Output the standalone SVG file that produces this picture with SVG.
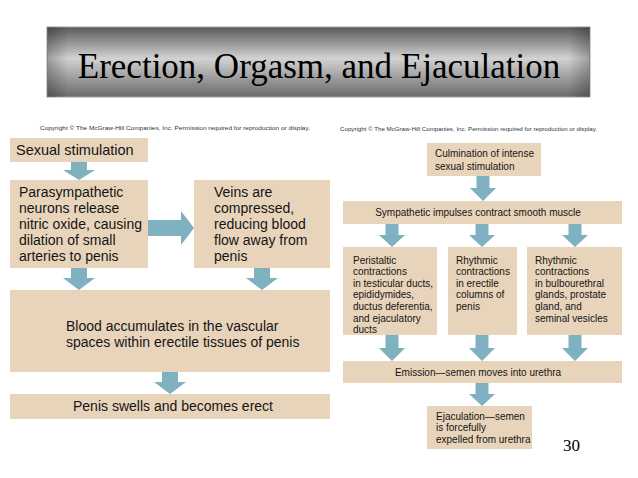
<svg xmlns="http://www.w3.org/2000/svg" width="638" height="478" viewBox="0 0 638 478">
<defs>
<linearGradient id="tg" x1="0" y1="0" x2="0" y2="1">
<stop offset="0" stop-color="#5a5a5a"/>
<stop offset="0.45" stop-color="#d2d2d2"/>
<stop offset="1" stop-color="#6a6a6a"/>
</linearGradient>
<linearGradient id="tgh" x1="0" y1="0" x2="1" y2="0">
<stop offset="0" stop-color="#000" stop-opacity="0.25"/>
<stop offset="0.04" stop-color="#000" stop-opacity="0"/>
<stop offset="0.96" stop-color="#000" stop-opacity="0"/>
<stop offset="1" stop-color="#000" stop-opacity="0.25"/>
</linearGradient>
</defs>
<style>
.box{fill:#e8d4bb}
.arr{fill:#7fb1c1}
.t{font-family:"Liberation Sans",Arial,sans-serif;fill:#141414}
.l{font-size:14px}
.s{font-size:10px}
.c{font-family:"Liberation Sans",Arial,sans-serif;font-size:6.2px;fill:#333}
.m{text-anchor:middle}
</style>
<rect width="638" height="478" fill="#fff"/>
<g id="title">
<rect x="47" y="27" width="543" height="70" fill="url(#tg)" stroke="#a0a0a0" stroke-width="1"/>
<rect x="47" y="27" width="543" height="70" fill="url(#tgh)"/>
<text x="319" y="78" font-family="Liberation Serif,'Times New Roman',serif" font-size="35" text-anchor="middle" fill="#000">Erection, Orgasm, and Ejaculation</text>
</g>
<g id="copyright">
<text class="c" x="40" y="130" textLength="270" lengthAdjust="spacingAndGlyphs">Copyright © The McGraw-Hill Companies, Inc. Permission required for reproduction or display.</text>
<text class="c" x="340" y="131" textLength="257" lengthAdjust="spacingAndGlyphs">Copyright © The McGraw-Hill Companies, Inc. Permission required for reproduction or display.</text>
</g>
<g id="connectors">
<polygon class="arr" points="71,162 87,162 87,170 95,170 79,180 63,170 71,170"/>
<polygon class="arr" points="71,268 87,268 87,278 95,278 79,290 63,278 71,278"/>
<polygon class="arr" points="254,268 270,268 270,278 278,278 262,290 246,278 254,278"/>
<polygon class="arr" points="162,372 178,372 178,382 186,382 170,394 154,382 162,382"/>
<polygon class="arr" points="148,220 181,220 181,211 194,228 181,245 181,236 148,236"/>
<polygon class="arr" points="476.5,176 489.5,176 489.5,188 496,188 483,201 470,188 476.5,188"/>
<polygon class="arr" points="385.5,224 398.5,224 398.5,235 405,235 392,247 379,235 385.5,235"/>
<polygon class="arr" points="475.5,224 488.5,224 488.5,235 495,235 482,247 469,235 475.5,235"/>
<polygon class="arr" points="568.5,224 581.5,224 581.5,235 588,235 575,247 562,235 568.5,235"/>
<polygon class="arr" points="385.5,335 398.5,335 398.5,348 405,348 392,361 379,348 385.5,348"/>
<polygon class="arr" points="475.5,335 488.5,335 488.5,348 495,348 482,361 469,348 475.5,348"/>
<polygon class="arr" points="568.5,335 581.5,335 581.5,348 588,348 575,361 562,348 568.5,348"/>
<polygon class="arr" points="475.5,383 488.5,383 488.5,394 495,394 482,406 469,394 475.5,394"/>
</g>
<g id="sexual-stimulation">
<rect class="box" x="10" y="138" width="138" height="24"/>
<text class="t" x="16" y="155" font-size="14.5">Sexual stimulation</text>
</g>
<g id="parasympathetic">
<rect class="box" x="10" y="180" width="138" height="88"/>
<text class="t l" x="19" y="197">Parasympathetic</text>
<text class="t l" x="19" y="213">neurons release</text>
<text class="t l" x="19" y="229">nitric oxide, causing</text>
<text class="t l" x="19" y="245">dilation of small</text>
<text class="t l" x="19" y="261">arteries to penis</text>
</g>
<g id="veins">
<rect class="box" x="194" y="180" width="136" height="88"/>
<text class="t l" x="214" y="197">Veins are</text>
<text class="t l" x="214" y="213">compressed,</text>
<text class="t l" x="214" y="229">reducing blood</text>
<text class="t l" x="214" y="245">flow away from</text>
<text class="t l" x="214" y="261">penis</text>
</g>
<g id="blood">
<rect class="box" x="10" y="290" width="320" height="82"/>
<text class="t l" x="66" y="331">Blood accumulates in the vascular</text>
<text class="t l" x="66" y="347">spaces within erectile tissues of penis</text>
</g>
<g id="penis-erect">
<rect class="box" x="10" y="394" width="320" height="25"/>
<text class="t l m" x="173" y="411">Penis swells and becomes erect</text>
</g>
<g id="culmination">
<rect class="box" x="427" y="143" width="114" height="33"/>
<text class="t s" x="435" y="157">Culmination of intense</text>
<text class="t s" x="435" y="169.5">sexual stimulation</text>
</g>
<g id="sympathetic">
<rect class="box" x="343" y="201" width="279" height="23"/>
<text class="t s m" x="478" y="216">Sympathetic impulses contract smooth muscle</text>
</g>
<g id="peristaltic">
<rect class="box" x="343" y="247" width="94" height="88"/>
<text class="t s" x="353" y="263.5">Peristaltic</text>
<text class="t s" x="353" y="275.1">contractions</text>
<text class="t s" x="353" y="286.7">in testicular ducts,</text>
<text class="t s" x="353" y="298.3">epididymides,</text>
<text class="t s" x="353" y="309.9">ductus deferentia,</text>
<text class="t s" x="353" y="321.5">and ejaculatory</text>
<text class="t s" x="353" y="333.1">ducts</text>
</g>
<g id="rhythmic-erectile">
<rect class="box" x="448" y="247" width="69" height="88"/>
<text class="t s" x="456" y="263.5">Rhythmic</text>
<text class="t s" x="456" y="275.1">contractions</text>
<text class="t s" x="456" y="286.7">in erectile</text>
<text class="t s" x="456" y="298.3">columns of</text>
<text class="t s" x="456" y="309.9">penis</text>
</g>
<g id="rhythmic-glands">
<rect class="box" x="527" y="247" width="95" height="88"/>
<text class="t s" x="535" y="263.5">Rhythmic</text>
<text class="t s" x="535" y="275.1">contractions</text>
<text class="t s" x="535" y="286.7">in bulbourethral</text>
<text class="t s" x="535" y="298.3">glands, prostate</text>
<text class="t s" x="535" y="309.9">gland, and</text>
<text class="t s" x="535" y="321.5">seminal vesicles</text>
</g>
<g id="emission">
<rect class="box" x="343" y="361" width="279" height="22"/>
<text class="t s m" x="478" y="375.5">Emission—semen moves into urethra</text>
</g>
<g id="ejaculation">
<rect class="box" x="427" y="406" width="105" height="43"/>
<text class="t s" x="436" y="419.5">Ejaculation—semen</text>
<text class="t s" x="436" y="431">is forcefully</text>
<text class="t s" x="436" y="442.5">expelled from urethra</text>
</g>
<g id="page-number">
<text x="563" y="451" font-family="Liberation Serif,'Times New Roman',serif" font-size="17" fill="#000">30</text>
</g>
</svg>
